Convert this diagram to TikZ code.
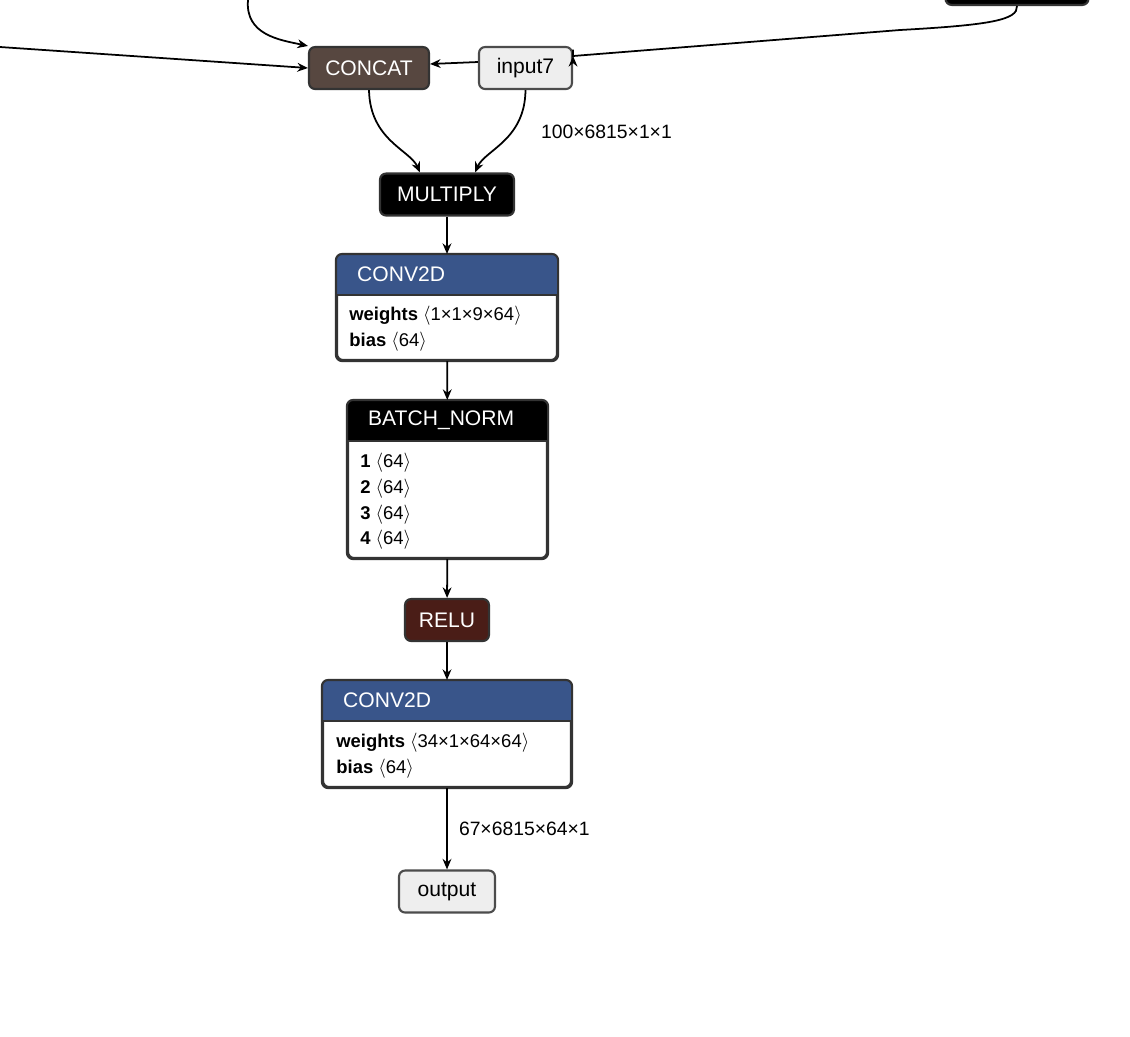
\documentclass[tikz,border=0pt]{standalone}
\usepackage{fontspec}
\setmainfont{Liberation Sans}
\usetikzlibrary{arrows.meta,calc}
\definecolor{concatc}{HTML}{574740}
\definecolor{convc}{HTML}{39558A}
\definecolor{reluc}{HTML}{4A1D17}
\definecolor{inc}{HTML}{EEEEEE}
\def\px{0.02cm}
\tikzset{
  op/.style={draw=black!80, line width=1.2pt, rounded corners=3.5pt, inner sep=0pt,
    minimum height=42*\px, font=\fontsize{12}{14}\selectfont, text=white},
  io/.style={op, fill=inc, text=black, draw=black!70},
  box/.style={draw=black!80, line width=1.2pt, rounded corners=3.5pt, inner sep=0pt, fill=white},
  htext/.style={anchor=west, text=white, font=\fontsize{12}{14}\selectfont},
  btext/.style={anchor=west, font=\fontsize{10.5}{12}\selectfont, inner sep=0pt},
  lbl/.style={anchor=west, font=\fontsize{11}{13}\selectfont},
  edge/.style={-{Stealth[length=6pt,width=5pt]}, line width=1pt}
}
\newcommand\hdr[3]{% node, header height, colour
  \begin{scope}
    \clip[rounded corners=3.5pt] (#1.north west) rectangle (#1.south east);
    \fill[#3] (#1.north west) rectangle ($(#1.north east)+(0,#2)$);
  \end{scope}
  \draw[black!80, line width=1pt] ($(#1.north west)+(0,#2)$) -- ($(#1.north east)+(0,#2)$);
  \draw[black!80, line width=1.2pt, rounded corners=3.5pt] (#1.north west) rectangle (#1.south east);}
\begin{document}
\begin{tikzpicture}[x=\px, y=-\px]
\useasboundingbox (0,0) rectangle (1130,1036);
% partly visible node at top right
\node[op, fill=black, minimum width=143*\px, anchor=south] (top) at (1017,6) {};
\coordinate (tl) at (248,0);
\coordinate (l) at (0,47);

\node[op, fill=concatc, minimum width=120*\px] (concat) at (369,68) {CONCAT};
\node[io, minimum width=93*\px] (in7) at (525.5,68) {input7};
\node[op, fill=black, minimum width=134*\px] (mul) at (447,194.5) {MULTIPLY};

\node[box, minimum width=220*\px, minimum height=105*\px] (c1) at (447,307.5) {};
\hdr{c1}{-41*\px}{convc}
\node[htext] at ($(c1.north west)+(0.3cm,-20.5*\px)$) {CONV2D};
\node[btext] at (349,316) {\textbf{weights}\ $\langle$1×1×9×64$\rangle$};
\node[btext] at (349,342) {\textbf{bias}\ $\langle$64$\rangle$};

\node[box, minimum width=199*\px, minimum height=157*\px] (bn) at (447.5,479.5) {};
\hdr{bn}{-41*\px}{black}
\node[htext] at ($(bn.north west)+(0.3cm,-20.5*\px)$) {BATCH\_NORM};
\node[btext] at (360,463) {\textbf{1}\ $\langle$64$\rangle$};
\node[btext] at (360,489) {\textbf{2}\ $\langle$64$\rangle$};
\node[btext] at (360,515) {\textbf{3}\ $\langle$64$\rangle$};
\node[btext] at (360,540) {\textbf{4}\ $\langle$64$\rangle$};

\node[op, fill=reluc, minimum width=84*\px] (relu) at (447,620) {RELU};

\node[box, minimum width=248*\px, minimum height=106*\px] (c2) at (447,734) {};
\hdr{c2}{-41*\px}{convc}
\node[htext] at ($(c2.north west)+(0.3cm,-20.5*\px)$) {CONV2D};
\node[btext] at (336,743) {\textbf{weights}\ $\langle$34×1×64×64$\rangle$};
\node[btext] at (336,769) {\textbf{bias}\ $\langle$64$\rangle$};

\node[io, minimum width=96*\px] (out) at (447,891.5) {output};

% connectors
\draw[edge] (tl) .. controls (245,35) and (280,40) .. (concat.north west);
\draw[edge] (l) -- (concat.west);
\draw[edge] (top.south) .. controls (1018,20) and (990,25) .. (900,30) -- (in7.east |- 0,56) -- (in7.east |- 0,56);
\draw[edge] (in7.west |- 0,62) -- (concat.east |- 0,64);
\draw[edge] (concat.south) .. controls (370,140) and (410,150) .. (mul.north -| 420,0);
\draw[edge] (in7.south) .. controls (525,140) and (485,150) .. (mul.north -| 475,0);
\node[lbl] at (535,132) {100×6815×1×1};
\draw[edge] (mul) -- (c1);
\draw[edge] (c1) -- (bn);
\draw[edge] (bn) -- (relu);
\draw[edge] (relu) -- (c2);
\draw[edge] (c2) -- node[lbl, pos=0.5, xshift=3pt]  {67×6815×64×1} (out);
\end{tikzpicture}
\end{document}
